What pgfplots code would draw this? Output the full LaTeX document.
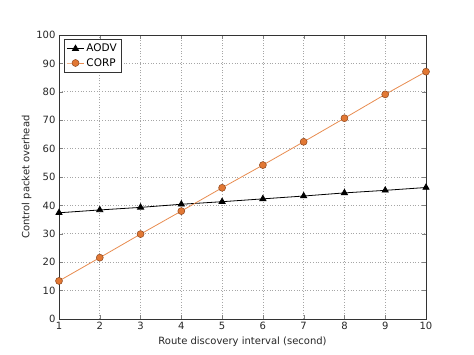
\documentclass[border=0pt]{standalone}
\usepackage{fontspec}
\setmainfont{DejaVu Sans}
\usepackage{pgfplots}
\pgfplotsset{compat=1.18}
\definecolor{corpfill}{RGB}{226,120,52}
\definecolor{corpedge}{RGB}{140,70,30}
\definecolor{corpline}{RGB}{232,140,80}
\begin{document}
\begin{tikzpicture}[x=1pt,y=1pt]
\useasboundingbox (-59,-36) rectangle (415,319);
\begin{axis}[
  at={(0,0)}, anchor=origin,
  scale only axis, width=367pt, height=284pt,
  xmin=1, xmax=10, ymin=0, ymax=100,
  xtick={1,...,10}, ytick={0,10,...,100},
  tick align=inside, tick pos=both,
  major tick length=4pt,
  grid=major,
  grid style={dash pattern=on 0.9pt off 1.8pt, black!35, line width=0.7pt},
  axis line style={black!80, line width=0.8pt},
  /pgf/number format/assume math mode=true,
  tick label style={font=\fontsize{10}{12}\selectfont, text=black!85},
  label style={font=\fontsize{10}{12}\selectfont, text=black!85},
  xlabel={Route discovery interval (second)},
  ylabel={Control packet overhead},
  ylabel style={yshift=-2pt},
  legend style={font=\fontsize{10.5}{12}\selectfont, draw=black!80, line width=0.6pt, inner sep=2.5pt, row sep=1pt, at={(0.013,0.985)}, anchor=north west},
  legend cell align=left,
]
\addplot[black, line width=0.8pt, mark=triangle*, mark size=3.5pt, mark options={fill=black}]
  coordinates {(1,37.4) (2,38.4) (3,39.3) (4,40.4) (5,41.3) (6,42.3) (7,43.3) (8,44.4) (9,45.3) (10,46.3)};
\addlegendentry{AODV}
\addplot[corpline, line width=0.8pt, mark=*, mark size=3.5pt, mark options={fill=corpfill, draw=corpedge, line width=0.5pt}]
  coordinates {(1,13.4) (2,21.6) (3,29.9) (4,38.0) (5,46.2) (6,54.2) (7,62.4) (8,70.7) (9,79.1) (10,87.1)};
\addlegendentry{CORP}
\end{axis}
\end{tikzpicture}
\end{document}
